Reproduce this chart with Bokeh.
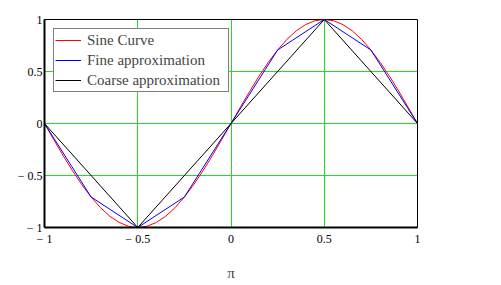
from bokeh.plotting import figure
from bokeh.models import FixedTicker, Legend, LegendItem
from bokeh.embed import file_html
from bokeh.resources import INLINE

# x in units of pi
sine_x = [-1.0, -0.95, -0.9, -0.85, -0.8, -0.75, -0.7, -0.65, -0.6, -0.55, -0.5,
          -0.45, -0.4, -0.35, -0.3, -0.25, -0.2, -0.15, -0.1, -0.05, 0.0,
          0.05, 0.1, 0.15, 0.2, 0.25, 0.3, 0.35, 0.4, 0.45, 0.5,
          0.55, 0.6, 0.65, 0.7, 0.75, 0.8, 0.85, 0.9, 0.95, 1.0]
sine_y = [0.0, -0.156, -0.309, -0.454, -0.588, -0.707, -0.809, -0.891, -0.951, -0.988, -1.0,
          -0.988, -0.951, -0.891, -0.809, -0.707, -0.588, -0.454, -0.309, -0.156, 0.0,
          0.156, 0.309, 0.454, 0.588, 0.707, 0.809, 0.891, 0.951, 0.988, 1.0,
          0.988, 0.951, 0.891, 0.809, 0.707, 0.588, 0.454, 0.309, 0.156, 0.0]

fine_x = [-1.0, -0.75, -0.5, -0.25, 0.0, 0.25, 0.5, 0.75, 1.0]
fine_y = [0.0, -0.707, -1.0, -0.707, 0.0, 0.707, 1.0, 0.707, 0.0]

coarse_x = [-1.0, -0.5, 0.0, 0.5, 1.0]
coarse_y = [0.0, -1.0, 0.0, 1.0, 0.0]

tick_values = [-1.0, -0.5, 0.0, 0.5, 1.0]
tick_labels = ["\u2212 1", "\u2212 0.5", "0", "0.5", "1"]
series_names = ["Sine Curve", "Fine approximation", "Coarse approximation"]
x_label = "\u03c0"

FONT = "Liberation Serif"
GREEN = "#22dd22"

p = figure(width=501, height=285, x_range=(-1, 1), y_range=(-1, 1),
           output_backend="svg", toolbar_location=None, title=None,
           min_border_left=44, min_border_right=84, min_border_top=19,
           min_border_bottom=58)

p.outline_line_color = "black"
p.outline_line_width = 1
p.background_fill_color = "white"
p.border_fill_color = "white"

labels_map = {v: t for v, t in zip(tick_values, tick_labels)}
for ax in (p.xaxis[0], p.yaxis[0]):
    ax.ticker = FixedTicker(ticks=tick_values)
    ax.major_label_overrides = labels_map
    ax.axis_line_color = "black"
    ax.axis_line_width = 2
    ax.major_tick_in = 0
    ax.major_tick_out = 0
    ax.minor_tick_in = 0
    ax.minor_tick_out = 0
    ax.major_label_text_font = FONT
    ax.major_label_text_font_size = "12px"
    ax.major_label_text_color = "black"

p.xaxis[0].major_label_standoff = 4
p.yaxis[0].major_label_standoff = 2
p.xaxis[0].axis_label = x_label
p.xaxis[0].axis_label_text_font = FONT
p.xaxis[0].axis_label_text_font_size = "15px"
p.xaxis[0].axis_label_text_font_style = "normal"
p.xaxis[0].axis_label_standoff = 16

for g in (p.xgrid[0], p.ygrid[0]):
    g.ticker = FixedTicker(ticks=tick_values)
    g.grid_line_color = GREEN
    g.grid_line_width = 1

r1 = p.line(sine_x, sine_y, line_color="#ff0000", line_width=1)
r2 = p.line(fine_x, fine_y, line_color="#0000ff", line_width=1)
r3 = p.line(coarse_x, coarse_y, line_color="black", line_width=1)

legend = Legend(items=[LegendItem(label=series_names[0], renderers=[r1]),
                       LegendItem(label=series_names[1], renderers=[r2]),
                       LegendItem(label=series_names[2], renderers=[r3])],
                location="top_left", margin=9, padding=1, spacing=0,
                glyph_width=26, glyph_height=20, label_height=20,
                label_standoff=6, label_width=140,
                label_text_font=FONT, label_text_font_size="15px",
                border_line_color="black", border_line_width=1,
                background_fill_color="white", background_fill_alpha=1)
p.add_layout(legend)

open("out.html", "w").write(file_html(p, INLINE))
